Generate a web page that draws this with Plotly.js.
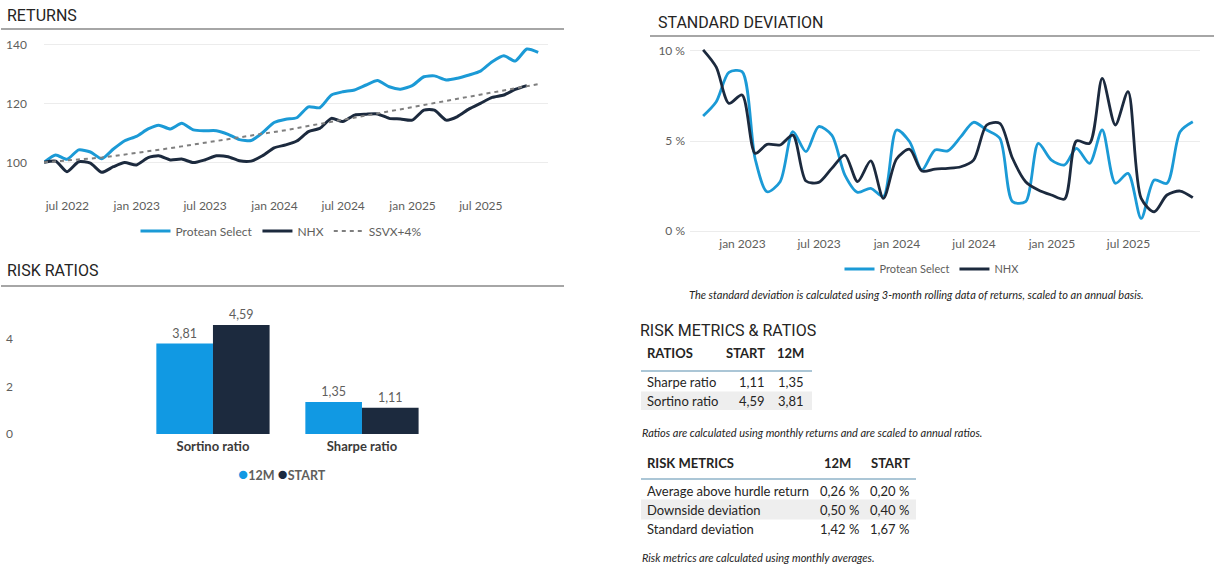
<!DOCTYPE html>
<html><head><meta charset="utf-8">
<script src="https://cdn.plot.ly/plotly-3.0.1.min.js"></script>
<style>html,body{margin:0;padding:0;background:#fff;overflow:hidden}#chart{width:1214px;height:570px}</style>
</head><body><div id="chart"></div>
<script>
// ---------- DATA ----------
const returnDates = ['2022-04-30','2022-05-31','2022-06-30','2022-07-31','2022-08-31','2022-09-30','2022-10-31','2022-11-30','2022-12-31',
 '2023-01-31','2023-02-28','2023-03-31','2023-04-30','2023-05-31','2023-06-30','2023-07-31','2023-08-31','2023-09-30','2023-10-31','2023-11-30','2023-12-31',
 '2024-01-31','2024-02-29','2024-03-31','2024-04-30','2024-05-31','2024-06-30','2024-07-31','2024-08-31','2024-09-30','2024-10-31','2024-11-30','2024-12-31',
 '2025-01-31','2025-02-28','2025-03-31','2025-04-30','2025-05-31','2025-06-30','2025-07-31','2025-08-31','2025-09-30','2025-10-31','2025-11-30'];
const proteanReturns = [100,102.5,101,104.2,103.5,101.2,104.5,107.3,108.8,111.3,112.6,111.3,113.2,111,110.7,110.7,109.5,107.7,107.4,110,113.5,
 114.6,115.1,118.8,118.5,122.8,123.9,124.5,126.2,127.7,125.6,124.8,126,129,129.3,127.9,128.5,129.6,130.9,134.1,136.1,134.3,138.4,137.3];
const nhxReturns = [100,100.4,96.8,100.2,99.7,96.6,98.5,99.9,99.1,101.6,102.2,100.8,101.1,99.9,100.8,102.2,101.9,100.5,100.4,102.2,104.9,
 105.9,107.2,110.4,111.5,114.9,113.8,116,116.3,116.4,114.9,114.7,114.3,117.7,117.7,114.3,115.5,118.1,120,122,122.8,124.7,126];
const ssvxReturns = [100,100.3,100.6,100.9,101.2,101.6,102.1,102.6,103.1,103.7,104.2,104.8,105.4,106,106.6,107.2,107.8,108.4,109,109.7,110.3,
 110.9,111.6,112.3,113.0,113.7,114.4,115.1,115.8,116.5,117.2,117.9,118.7,119.4,120.1,120.8,121.5,122.2,122.9,123.6,124.3,125.0,125.8,126.5];
const returnTickVals = ['2022-07-01','2023-01-01','2023-07-01','2024-01-01','2024-07-01','2025-01-01','2025-07-01'];
const returnTickText = ['jul 2022','jan 2023','jul 2023','jan 2024','jul 2024','jan 2025','jul 2025'];
const returnYTicks = [100,120,140];

const stdDates = ['2022-09-30','2022-10-31','2022-11-30','2022-12-31',
 '2023-01-31','2023-02-28','2023-03-31','2023-04-30','2023-05-31','2023-06-30','2023-07-31','2023-08-31','2023-09-30','2023-10-31','2023-11-30','2023-12-31',
 '2024-01-31','2024-02-29','2024-03-31','2024-04-30','2024-05-31','2024-06-30','2024-07-31','2024-08-31','2024-09-30','2024-10-31','2024-11-30','2024-12-31',
 '2025-01-31','2025-02-28','2025-03-31','2025-04-30','2025-05-31','2025-06-30','2025-07-31','2025-08-31','2025-09-30','2025-10-31','2025-11-30'];
const proteanStd = [6.39,7.18,8.81,8.85,4.0,2.18,2.74,5.52,4.41,5.8,5.33,3.11,2.15,2.37,1.91,5.61,4.96,3.39,4.5,4.45,5.24,6.04,5.61,5.15,1.63,1.63,
 4.87,3.94,3.67,4.59,3.76,5.61,2.65,3.2,0.7,2.83,2.65,5.52,6.07];
const nhxStd = [10.06,9.1,7.09,7.56,4.31,4.81,4.78,5.33,2.78,2.7,3.48,4.22,2.74,3.89,1.81,4.0,4.54,3.33,3.44,3.48,3.57,3.94,5.89,5.98,4.04,2.74,
 2.28,2.0,1.78,5.0,4.87,8.48,5.89,7.74,1.81,1.07,2.0,2.22,1.85];
const stdTickVals = ['2023-01-01','2023-07-01','2024-01-01','2024-07-01','2025-01-01','2025-07-01'];
const stdTickText = ['jan 2023','jul 2023','jan 2024','jul 2024','jan 2025','jul 2025'];
const stdYTicks = [0,5,10];
const stdYTickText = ['0 %','5 %','10 %'];

const ratioCategories = ['Sortino ratio','Sharpe ratio'];
const ratio12M = [3.81,1.35];
const ratioStartBars = [4.59,1.11];
const ratioYTicks = [0,2,4];

const ratioTableRows = ['Sharpe ratio','Sortino ratio'];
const ratioTableStart = [1.11,4.59];
const ratioTable12M = [1.35,3.81];
const metricRows = ['Average above hurdle return','Downside deviation','Standard deviation'];
const metric12M = [0.26,0.50,1.42];
const metricStart = [0.20,0.40,1.67];

// ---------- STYLE ----------
const W = 1214, H = 570;
const X = x => x / W, Y = y => 1 - y / H;
const BODY = '"Segoe UI", Lato, sans-serif';
const TITLE = 'Roboto, "DIN", sans-serif';
const BLUE = '#1b9ad6', BLUEBAR = '#1199e3', DARK = '#1c2a3e', GREY = '#7f7f7f';
const TICK = '#605e5c', TEXT = '#252423', GRID = '#ececec';
const fmt = v => v.toFixed(2).replace('.', ',');

const traces = [
 {type:'scatter', mode:'lines', x:returnDates, y:proteanReturns, name:'Protean Select', line:{color:BLUE,width:3,shape:'spline',smoothing:0.6}, xaxis:'x', yaxis:'y', legend:'legend'},
 {type:'scatter', mode:'lines', x:returnDates.slice(0,nhxReturns.length), y:nhxReturns, name:'NHX', line:{color:DARK,width:3,shape:'spline',smoothing:0.6}, xaxis:'x', yaxis:'y', legend:'legend'},
 {type:'scatter', mode:'lines', x:returnDates, y:ssvxReturns, name:'SSVX+4%', line:{color:GREY,width:2,dash:'4px,4px'}, xaxis:'x', yaxis:'y', legend:'legend'},
 {type:'scatter', mode:'lines', x:stdDates, y:proteanStd, name:'Protean Select', line:{color:BLUE,width:2.8,shape:'spline',smoothing:0.8}, xaxis:'x2', yaxis:'y2', legend:'legend2'},
 {type:'scatter', mode:'lines', x:stdDates, y:nhxStd, name:'NHX', line:{color:DARK,width:2.8,shape:'spline',smoothing:0.8}, xaxis:'x2', yaxis:'y2', legend:'legend2'},
 {type:'bar', x:ratioCategories, y:ratio12M, name:'12M', marker:{color:BLUEBAR}, xaxis:'x3', yaxis:'y3', showlegend:false,
  texttemplate:'%{y:.2f}', textposition:'outside', cliponaxis:false, textfont:{family:BODY,size:12.5,color:TICK}},
 {type:'bar', x:ratioCategories, y:ratioStartBars, name:'START', marker:{color:DARK}, xaxis:'x3', yaxis:'y3', showlegend:false,
  texttemplate:'%{y:.2f}', textposition:'outside', cliponaxis:false, textfont:{family:BODY,size:12.5,color:TICK}}
];

const tickFont = {family:BODY,size:12,color:TICK};
const annotations = [];
function txt(s, x, y, o) {
  o = o || {};
  annotations.push({text:s, x:X(x), y:Y(y), xref:'paper', yref:'paper', showarrow:false,
    xanchor:o.xa||'left', yanchor:'middle',
    font:{family:o.family||BODY, size:o.size||13, color:o.color||TEXT, weight:o.weight||'normal', style:o.style||'normal'}});
}
txt('RETURNS', 5, 16, {family:TITLE,size:16});
txt('STANDARD DEVIATION', 656, 22, {family:TITLE,size:16});
txt('RISK RATIOS', 5, 271, {family:TITLE,size:16});
txt('RISK METRICS &amp; RATIOS', 638, 330, {family:TITLE,size:16});
txt('The standard deviation is calculated using 3-month rolling data of returns, scaled to an annual basis.', 916, 294, {xa:'center',size:11,style:'italic'});
txt('Ratios are calculated using monthly returns and are scaled to annual ratios.', 640, 432, {size:11,style:'italic'});
txt('Risk metrics are calculated using monthly averages.', 640, 557, {size:11,style:'italic'});
txt('<span style="color:'+BLUEBAR+';font-size:17px">●</span><b>12M </b><span style="color:'+DARK+';font-size:17px">●</span><b>START</b>', 282, 473, {xa:'center',size:12.5,color:TICK});

// ratios table
txt('RATIOS', 645, 353, {weight:'bold'});
txt('START', 767, 353, {xa:'right',weight:'bold'});
txt('12M', 806, 353, {xa:'right',weight:'bold'});
const ratioRowY = [382, 401];
ratioTableRows.forEach((r,i) => {
  txt(r, 645, ratioRowY[i]);
  txt(fmt(ratioTableStart[i]), 767, ratioRowY[i], {xa:'right'});
  txt(fmt(ratioTable12M[i]), 806, ratioRowY[i], {xa:'right'});
});
// metrics table
txt('RISK METRICS', 645, 463, {weight:'bold'});
txt('12M', 822, 463, {weight:'bold'});
txt('START', 869, 463, {weight:'bold'});
const metricRowY = [491, 510, 529];
metricRows.forEach((r,i) => {
  txt(r, 645, metricRowY[i]);
  txt(fmt(metric12M[i]) + ' %', 861, metricRowY[i], {xa:'right'});
  txt(fmt(metricStart[i]) + ' %', 911, metricRowY[i], {xa:'right'});
});

const line = (x0,x1,y,c,w) => ({type:'line', xref:'paper', yref:'paper', x0:X(x0), x1:X(x1), y0:Y(y), y1:Y(y), line:{color:c,width:w}});
const rect = (x0,x1,y0,y1,c) => ({type:'rect', xref:'paper', yref:'paper', x0:X(x0), x1:X(x1), y0:Y(y1), y1:Y(y0), fillcolor:c, line:{width:0}, layer:'below'});
const shapes = [
  line(1,564,29,'#a6a6a6',2),
  line(650,1214,36,'#a6a6a6',2),
  line(1,564,286,'#a6a6a6',2),
  rect(641,812,391.5,410,'#eeeeee'),
  line(641,812,371,'#8fb3c9',1.5),
  rect(641,916,499.5,519.5,'#eeeeee'),
  line(641,916,479,'#8fb3c9',1.5)
];

const legendBase = {orientation:'h', xanchor:'center', yanchor:'middle', bgcolor:'rgba(0,0,0,0)', itemwidth:30, tracegroupgap:0};

const layout = {
  width:W, height:H, margin:{l:0,r:0,t:0,b:0}, paper_bgcolor:'#fff', plot_bgcolor:'rgba(0,0,0,0)',
  separators:', ', hovermode:false, showlegend:true,
  barmode:'group', bargap:0.24, bargroupgap:0,
  legend:Object.assign({x:X(281), y:Y(231), font:{family:BODY,size:12,color:TICK}}, legendBase),
  legend2:Object.assign({x:X(932), y:Y(269), font:{family:BODY,size:11,color:TICK}}, legendBase),
  xaxis:{type:'date', domain:[X(44),X(548)], range:['2022-04-30','2025-12-26'], anchor:'y', tickvals:returnTickVals, ticktext:returnTickText,
    showgrid:false, zeroline:false, showline:false, ticks:'', tickfont:tickFont, ticklabelstandoff:6},
  yaxis:{domain:[Y(190.5),Y(40)], range:[90.44,141.46], anchor:'x', tickvals:returnYTicks, showgrid:true, gridcolor:GRID, gridwidth:1,
    zeroline:false, showline:false, ticks:'', tickfont:tickFont, ticklabelstandoff:16},
  xaxis2:{type:'date', domain:[X(690),X(1200)], range:['2022-08-30','2025-12-17'], anchor:'y2', tickvals:stdTickVals, ticktext:stdTickText,
    showgrid:false, zeroline:false, showline:false, ticks:'', tickfont:tickFont, ticklabelstandoff:0},
  yaxis2:{domain:[Y(235),Y(45)], range:[-0.222,10.333], anchor:'x2', tickvals:stdYTicks, ticktext:stdYTickText, showgrid:true, gridcolor:GRID,
    zeroline:false, showline:false, ticks:'', tickfont:tickFont, ticklabelstandoff:4},
  xaxis3:{type:'category', domain:[X(20),X(560)], range:[-1.295,2.329], anchor:'y3', showgrid:false, zeroline:false, showline:false, ticks:'',
    tickfont:{family:BODY,size:13,color:'#3b3a39',weight:'bold'}, ticklabelstandoff:3},
  yaxis3:{domain:[Y(434),Y(300)], range:[0,5.642], anchor:'x3', tickvals:ratioYTicks, showgrid:false, zeroline:false, showline:false, ticks:'',
    tickfont:tickFont, ticklabelstandoff:6},
  annotations:annotations, shapes:shapes
};
Plotly.newPlot('chart', traces, layout, {displayModeBar:false, staticPlot:true});
</script></body></html>
